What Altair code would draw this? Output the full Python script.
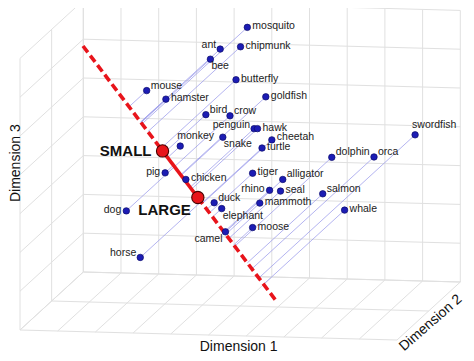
import altair as alt
import pandas as pd
import numpy as np

# ---------------- data (projected plane units: 1 = one grid cell) ----------------
animals = ["mosquito", "ant", "chipmunk", "bee", "butterfly", "goldfish", "mouse",
           "hamster", "bird", "crow", "penguin", "hawk", "snake", "monkey", "cheetah",
           "turtle", "swordfish", "dolphin", "orca", "pig", "chicken", "tiger",
           "alligator", "rhino", "seal", "salmon", "duck", "elephant", "mammoth",
           "whale", "dog", "camel", "moose", "horse"]
proj_x = [6.03, 5.31, 5.85, 5.05, 5.73, 6.52, 3.36,
          3.87, 4.93, 5.57, 6.21, 6.30, 5.38, 4.25, 6.68,
          6.42, 10.48, 8.27, 9.39, 3.85, 4.40, 6.17,
          6.97, 6.62, 6.91, 8.03, 5.15, 5.35, 6.36,
          8.61, 2.82, 5.45, 6.17, 3.19]
proj_y = [7.80, 7.24, 7.30, 6.98, 6.45, 6.01, 6.17,
          5.95, 5.55, 5.52, 5.19, 5.19, 4.97, 4.74, 4.90,
          4.69, 5.03, 4.45, 4.46, 4.05, 3.88, 4.04,
          3.88, 3.60, 3.58, 3.51, 3.28, 3.13, 3.27,
          3.09, 3.07, 2.53, 2.64, 1.87]

# label placement groups
label_right = ["mosquito", "chipmunk", "butterfly", "goldfish", "hamster", "hawk",
               "turtle", "chicken", "tiger", "seal", "mammoth", "moose", "whale"]
label_right_slight = ["cheetah"]
label_right_up = ["crow", "dolphin", "orca", "alligator", "salmon", "bird", "duck", "mouse"]
label_left = ["pig", "rhino", "dog"]
label_left_up = ["ant", "penguin", "horse"]
label_below = ["bee", "snake", "elephant"]
label_above = ["monkey", "swordfish"]
label_below_left = ["camel"]

# red size line (end points) and the two anchors along it
red_line_x = [1.671, 6.817]
red_line_y = [7.320, 0.722]
anchor_names = ["SMALL", "LARGE"]
anchor_t = [0.410, 0.592]

# box: 10 x 2 x 7 grid cells
N1, N2, N3 = 10, 2, 7
axis_titles = ["Dimension 1", "Dimension 2", "Dimension 3"]

# ---------------- geometry helpers ----------------
DEPTH = np.array([0.8395, 0.7474])   # screen direction of Dimension 2
TILT = -0.0258                        # slight slope of Dimension 1
PX_X, PX_Y = 37.7, 38.8               # pixels per unit

def proj(d1, d2, d3):
    return d1 + DEPTH[0] * d2, d3 + DEPTH[1] * d2 + TILT * d1

segs = []
def seg(p, q):
    x1, y1 = proj(*p)
    x2, y2 = proj(*q)
    segs.append(dict(x=x1, y=y1, x2=x2, y2=y2))

for i in range(N1 + 1):
    seg((i, N2, 0), (i, N2, N3))
    seg((i, 0, 0), (i, N2, 0))
for k in range(N3 + 1):
    seg((0, N2, k), (N1, N2, k))
    seg((0, 0, k), (0, N2, k))
for j in range(N2 + 1):
    seg((0, j, 0), (N1, j, 0))
    seg((0, j, 0), (0, j, N3))
box = pd.DataFrame(segs)

A = np.array([red_line_x[0], red_line_y[0]])
B = np.array([red_line_x[1], red_line_y[1]])
V = B - A

pts = pd.DataFrame(dict(name=animals, x=proj_x, y=proj_y))
feet = []
for px, py in zip(proj_x, proj_y):
    M = np.array([[DEPTH[0], -V[0]], [DEPTH[1], -V[1]]])
    s, t = np.linalg.solve(M, A - np.array([px, py]))
    feet.append(A + t * V)
pts["fx"] = [f[0] for f in feet]
pts["fy"] = [f[1] for f in feet]

anch = pd.DataFrame(dict(name=anchor_names,
                         x=[A[0] + t * V[0] for t in anchor_t],
                         y=[A[1] + t * V[1] for t in anchor_t]))
red_dash = pd.DataFrame([
    dict(x=A[0], y=A[1], x2=anch.x[0], y2=anch.y[0]),
    dict(x=anch.x[1], y=anch.y[1], x2=B[0], y2=B[1]),
])
red_solid = pd.DataFrame([dict(x=anch.x[0], y=anch.y[0], x2=anch.x[1], y2=anch.y[1])])

# ---------------- scales ----------------
W, H = 458, 345
XMIN = (8 - 20) / PX_X
YMAX = (330 - 8) / PX_Y
XS = alt.Scale(domain=[XMIN, XMIN + W / PX_X], nice=False, zero=False)
YS = alt.Scale(domain=[YMAX - H / PX_Y, YMAX], nice=False, zero=False)
X = lambda f="x": alt.X(f"{f}:Q", scale=XS, axis=None)
Y = lambda f="y": alt.Y(f"{f}:Q", scale=YS, axis=None)

FONT = "Liberation Sans"

grid = alt.Chart(box).mark_rule(color="#e0e0e0", strokeWidth=1).encode(
    x=X(), y=Y(), x2="x2:Q", y2="y2:Q")

links = alt.Chart(pts).mark_rule(color="#8f8fe8", strokeWidth=0.9, opacity=0.75).encode(
    x=X(), y=Y(), x2="fx:Q", y2="fy:Q")

dash = alt.Chart(red_dash).mark_rule(color="#e8141b", strokeWidth=3.6,
                                     strokeDash=[8, 4]).encode(
    x=X(), y=Y(), x2="x2:Q", y2="y2:Q")
solid = alt.Chart(red_solid).mark_rule(color="#e8141b", strokeWidth=3.6).encode(
    x=X(), y=Y(), x2="x2:Q", y2="y2:Q")

red_pts = alt.Chart(anch).mark_point(filled=True, shape="circle", size=150,
                                     color="#e8141b", stroke="#4a0000",
                                     strokeWidth=1.1, opacity=1).encode(x=X(), y=Y())

blue_pts = alt.Chart(pts).mark_point(filled=True, shape="circle", size=42,
                                     color="#1c1cb4", stroke="#0c0c6a",
                                     strokeWidth=0.7, opacity=1).encode(x=X(), y=Y())

def labels(names, dx, dy, align):
    return alt.Chart(pts[pts.name.isin(names)]).mark_text(
        align=align, baseline="middle", dx=dx, dy=dy, font=FONT, fontSize=10.5,
        color="#222222").encode(x=X(), y=Y(), text="name:N")

label_layers = [
    labels(label_right, 5, -1, "left"),
    labels(label_right_slight, 5, -2.5, "left"),
    labels(label_right_up, 4, -5, "left"),
    labels(label_left, -5, -1, "right"),
    labels(label_left_up, -4, -4, "right"),
    labels(label_below, 1, 7, "left"),
    labels(label_above, -3, -10, "left"),
    labels(label_below_left, -3, 7, "right"),
]

small_lbl = alt.Chart(anch[anch.name == "SMALL"]).mark_text(
    align="right", baseline="middle", dx=-11, dy=0, font=FONT, fontSize=15,
    fontWeight="bold", color="#111111").encode(x=X(), y=Y(), text="name:N")
large_lbl = alt.Chart(anch[anch.name == "LARGE"]).mark_text(
    align="right", baseline="middle", dx=-7, dy=12, font=FONT, fontSize=15,
    fontWeight="bold", color="#111111").encode(x=X(), y=Y(), text="name:N")

# axis titles, anchored to the box
t1 = proj(5.8, 0, 0)
t2 = proj(N1, 1, 0)
t3 = proj(0, 0, 4.3)
titles = pd.DataFrame(dict(
    name=axis_titles,
    x=[t1[0], t2[0] + 2 / PX_X, t3[0] - 4 / PX_X],
    y=[t1[1] - 11 / PX_Y, t2[1] - 12 / PX_Y, t3[1]],
    angle=[0, 319, 270]))

def title_layer(i):
    row = titles.iloc[[i]]
    return alt.Chart(row).mark_text(align="center", baseline="middle", font=FONT,
                                    fontSize=14, color="#111111",
                                    angle=float(row.angle.iloc[0])).encode(
        x=X(), y=Y(), text="name:N")

chart = alt.layer(grid, links, dash, solid, blue_pts, red_pts, *label_layers,
                  small_lbl, large_lbl, title_layer(0), title_layer(1), title_layer(2)
                  ).properties(width=W, height=H, padding=0,
                               autosize=alt.AutoSizeParams(type="none")
                  ).configure_view(stroke=None)

chart.save("out.html", embed_options={"renderer": "svg", "actions": False})
